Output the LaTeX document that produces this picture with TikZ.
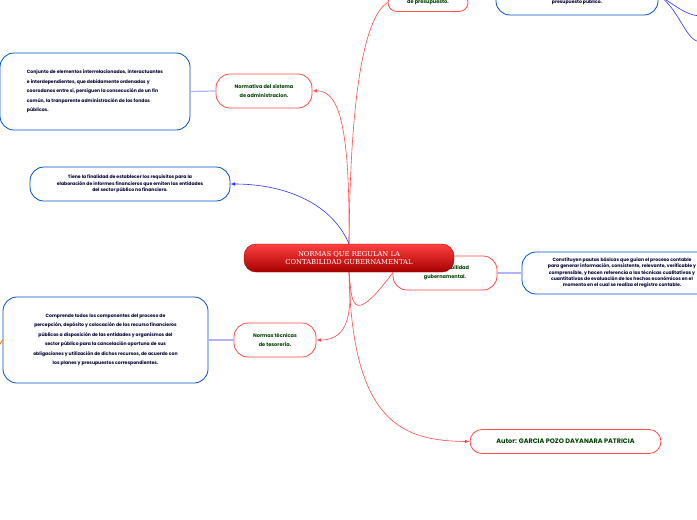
\documentclass[tikz,border=0pt]{standalone}
\usepackage{fontspec}
\setmainfont{Poppins}
\newfontfamily\serifx{DejaVu Serif}
\begin{document}
\begin{tikzpicture}[x=1pt,y=-1pt,
  topic/.style={draw=red!70!white,line width=0.8pt,rounded corners=14pt,fill=white,align=center,text=green!25!black,font=\fontsize{5}{9}\selectfont\bfseries,inner sep=0pt},
  desc/.style={draw=blue!60!cyan!80!black,line width=0.8pt,rounded corners=14pt,fill=white,align=center,text=blue!20!black,font=\fontsize{4.6}{8}\selectfont\bfseries,inner sep=0pt},
  redl/.style={red!70!white,line width=0.6pt},
  bluel/.style={blue!80!white,line width=0.6pt},
  lnk/.style={blue!30!white,line width=1.2pt}]
\useasboundingbox (0,0) rectangle (697,520);
\clip (0,0) rectangle (697,520);
% nodes
\node[topic,minimum width=80pt,minimum height=18pt,rounded corners=9pt] (top) at (428,2.5) {de presupuesto.};
\node[desc,minimum width=162pt,minimum height=40pt,font=\fontsize{4.6}{6.5}\selectfont\bfseries] (topd) at (577,-5) {\strut\\\strut\\presupuesto público.};
\node[topic,minimum width=96pt,minimum height=34pt] (nsa) at (264,91) {Normativa del sistema\\de administracion.};
\node[desc,minimum width=190pt,minimum height=77pt,align=left,font=\fontsize{4.6}{9.5}\selectfont\bfseries] (nsad) at (95,91.5) {Conjunto de elementos interrelacionados, interactuantes\\e interdependientes, que debidamente ordenados y\\coorodanos entre sí, persiguen la consecución de un fin\\común, la tranparente administración de los fondos\\públicos.};
\node[desc,minimum width=200pt,minimum height=34pt,font=\fontsize{4.6}{6.5}\selectfont\bfseries] (fin) at (130,184) {Tiene la finalidad de establecer los requisitos para la\\elaboración de informes financieros que emiten las entidades\\del sector público no financiero.};
\node[topic,minimum width=104pt,minimum height=34pt] (ncg) at (445,273) {\hspace*{18pt}ontabilidad\\gubernamental.};
\node[desc,minimum width=200pt,minimum height=42pt,font=\fontsize{4.6}{6.3}\selectfont\bfseries] (ncgd) at (622,273) {Constituyen pautas básicas que guían el proceso contable\\para generar información, consistente, relevante, verificable y\\comprensible, y hacen referencia a las técnicas cualitativas y\\cuantitativas de evaluación de los hechos económicos en el\\momento en el cual se realiza el registro contable.};
\node[topic,minimum width=82pt,minimum height=34pt] (nt) at (275,340) {Normas técnicas\\de tesorería.};
\node[desc,minimum width=205pt,minimum height=86pt,font=\fontsize{4.6}{9.5}\selectfont\bfseries] (ntd) at (105.5,340) {Comprende todos los componentes del proceso de\\percepción, depósito y colocación de los recurso financieros\\públicos a disposición de las entidades y organismos del\\sector público para la cancelación oportuna de sus\\obligaciones y utilización de dichos recursos, de acuerdo con\\los planes y presupuestos correspondientes.};
\node[topic,minimum width=191pt,minimum height=24pt,rounded corners=12pt,font=\fontsize{6.5}{8}\selectfont\bfseries] (aut) at (565.5,441.5) {Autor: GARCIA POZO DAYANARA PATRICIA};
% links
\draw[lnk] (nsa.west) -- (nsad.east);
\draw[lnk] (ncg.east) -- (ncgd.west);
\draw[lnk] (nt.west) -- (ntd.east);
\draw[orange,line width=1pt] (-2,347) -- (ntd.west);
% center
\node[draw=red!60!black,top color=red!75!white,bottom color=red!65!black,rounded corners=12pt,minimum width=210pt,minimum height=28pt,align=center,text=white,font=\serifx\fontsize{6.8}{8}\selectfont,inner sep=0pt] (c) at (349,258) {NORMAS QUE REGULAN LA\\CONTABILIDAD GUBERNAMENTAL};
% connectors
\draw[redl,-latex] (c.north) .. controls (350,130) and (340,90) .. (nsa.east);
\draw[redl] (c.north) .. controls (350,120) and (360,20) .. (top.west);
\draw[bluel,-latex] (c.north) .. controls (330,200) and (280,184) .. (fin.east);
\draw[redl] (c.south) .. controls (352,300) and (350,330) .. (ncg.west);
\draw[redl,-latex] (c.south) .. controls (352,310) and (350,340) .. (nt.east);
\draw[redl,-latex] (c.south) .. controls (352,420) and (400,441) .. (aut.west);
\draw[bluel] (topd.east) .. controls (680,10) and (685,40) .. (700,42);
\draw[bluel] (topd.east) .. controls (675,5) and (685,15) .. (700,16);
\end{tikzpicture}
\end{document}
